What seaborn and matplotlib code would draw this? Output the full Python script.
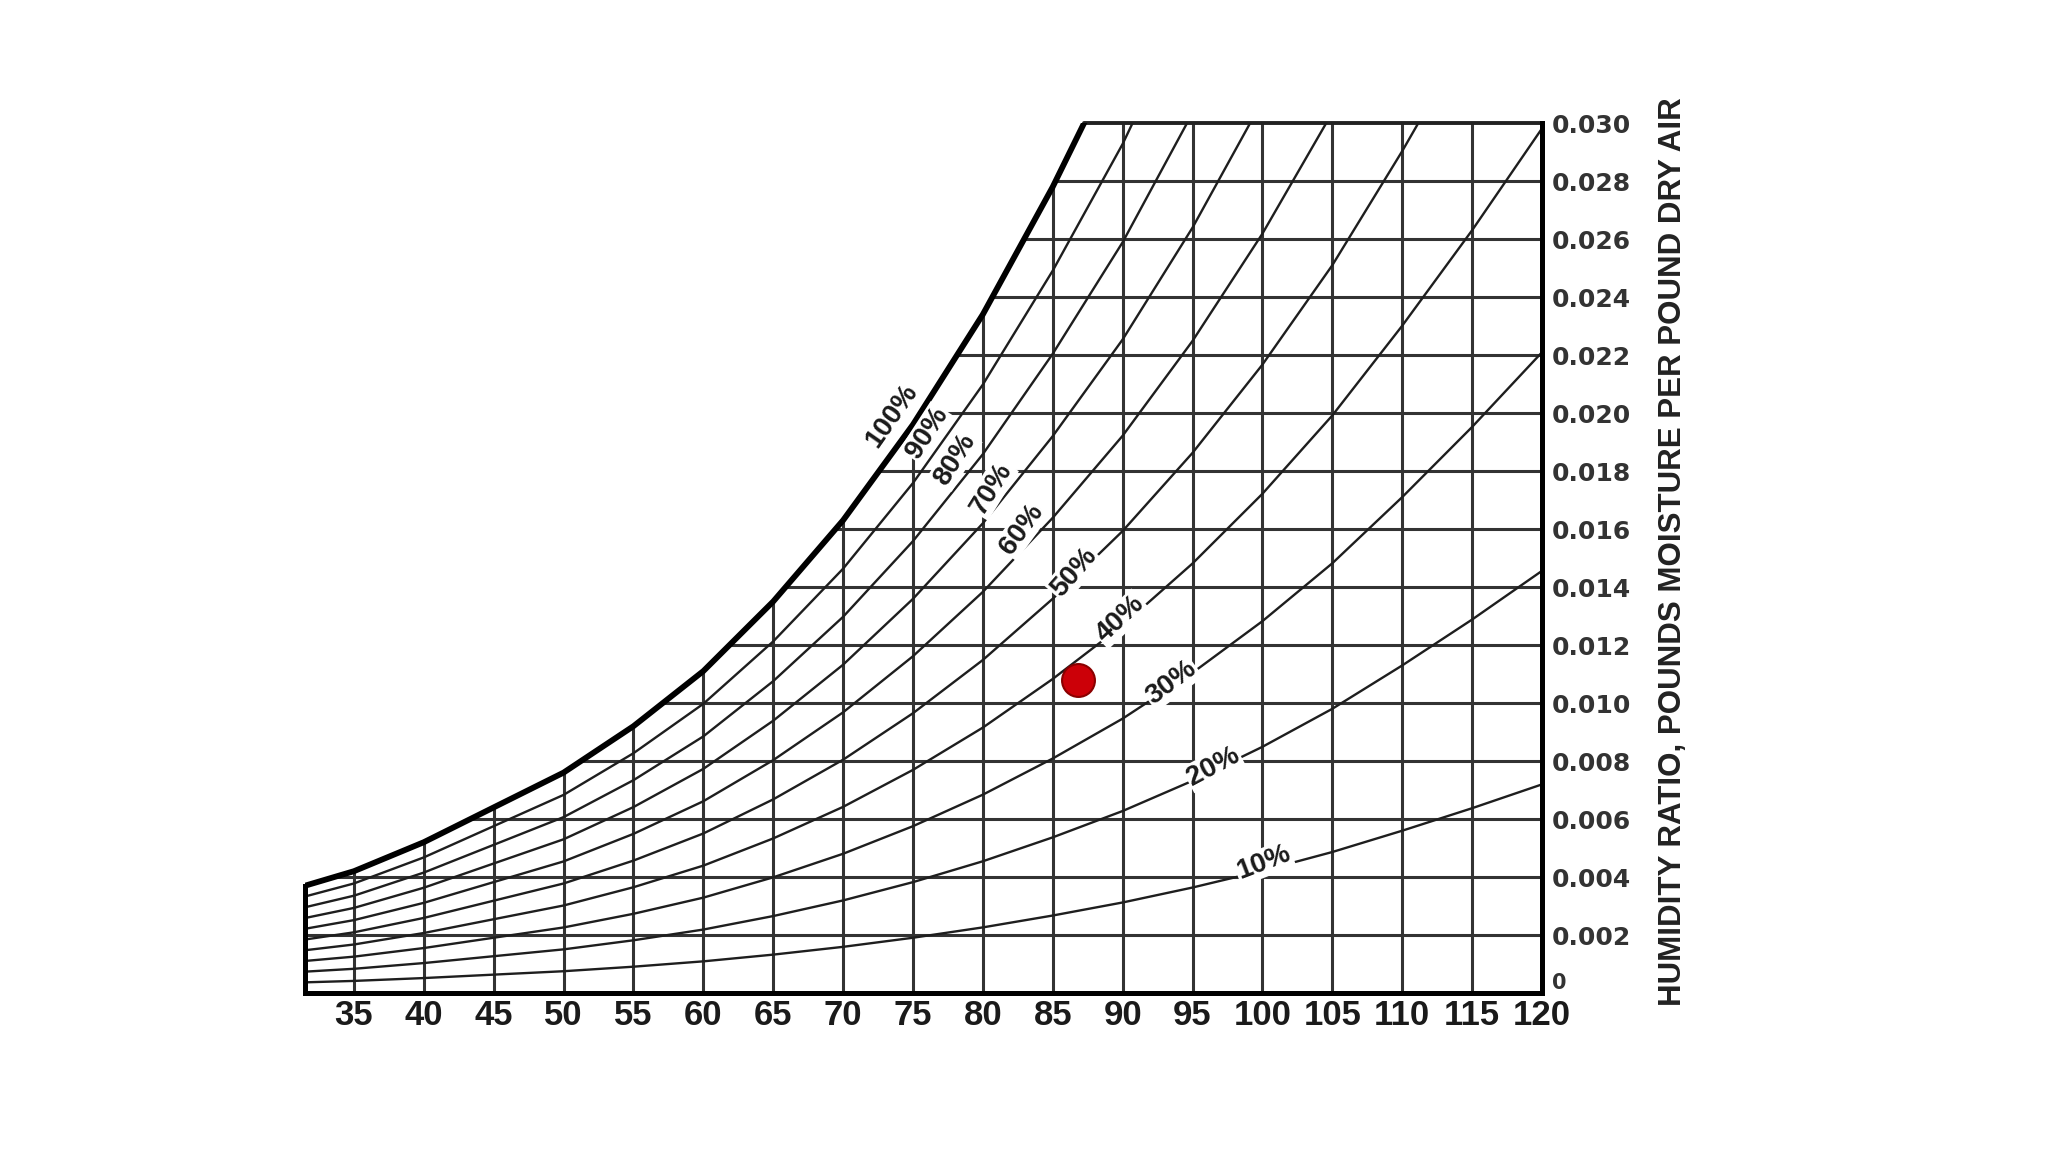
import matplotlib
matplotlib.use("Agg")
import matplotlib.pyplot as plt
import numpy as np
import pandas as pd
import seaborn as sns

# dry bulb temperature (F) at the chart's vertical lines (first value = left edge)
temps = [31.5, 35, 40, 45, 50, 55, 60, 65, 70, 75, 80, 85, 90, 95, 100, 105, 110, 115, 120]
# humidity ratio on the saturation curve
sat_w = [0.0037, 0.0042, 0.0052, 0.0064, 0.0076, 0.0092, 0.0111, 0.0135, 0.0163, 0.0196,
         0.0234, 0.0278, 0.0327, 0.0384, 0.0449, 0.0523, 0.0609, 0.0702, 0.0803]
rh_levels = [0.1, 0.2, 0.3, 0.4, 0.5, 0.6, 0.7, 0.8, 0.9]

x_ticks = [35, 40, 45, 50, 55, 60, 65, 70, 75, 80, 85, 90, 95, 100, 105, 110, 115, 120]
y_ticks = [0, 0.002, 0.004, 0.006, 0.008, 0.010, 0.012, 0.014, 0.016, 0.018, 0.020,
           0.022, 0.024, 0.026, 0.028, 0.030]
y_tick_labels = ["0", "0.002", "0.004", "0.006", "0.008", "0.010", "0.012", "0.014", "0.016",
                 "0.018", "0.020", "0.022", "0.024", "0.026", "0.028", "0.030"]

# relative humidity curve labels
rh_names = ["100%", "90%", "80%", "70%", "60%", "50%", "40%", "30%", "20%", "10%"]
rh_label_t = [73.5, 76.0, 78.0, 80.6, 82.8, 86.5, 89.8, 93.5, 96.5, 100.1]
rh_label_w = [0.0199, 0.0193, 0.0184, 0.0174, 0.0160, 0.0145, 0.0129, 0.0107, 0.0078, 0.0045]
rh_label_angle = [55, 57, 58, 58, 54, 49, 43, 37, 28, 21]

# marked state point
point_t = [86.8]
point_w = [0.0108]

P_ATM = 14.696
W_TOP = 0.030
T_MIN, T_MAX = temps[0], temps[-1]
FONT = ["Liberation Sans", "DejaVu Sans"]

# build the relative humidity curves from the saturation curve
t_arr = np.array(temps)
ws = np.array(sat_w)
pws = ws * P_ATM / (0.622 + ws)
rows = []
for rh in rh_levels:
    pv = rh * pws
    w = 0.622 * pv / (P_ATM - pv)
    for t, v in zip(t_arr, w):
        rows.append({"temp": t, "w": v, "rh": rh})
curves = pd.DataFrame(rows)

sns.set_theme(style="white")
fig = plt.figure(figsize=(20.48, 11.52), dpi=100)
ax = fig.add_axes([0.1489, 0.138, 0.604, 0.7552])

grid_kw = dict(color="#333333", lw=2.2, solid_capstyle="butt", zorder=1)

# vertical lines up to the saturation curve
for t in x_ticks[:-1]:
    top = min(np.interp(t, t_arr, ws), W_TOP)
    ax.plot([t, t], [0, top], **grid_kw)

# horizontal lines from the saturation curve to the right edge
for w in y_ticks[1:-1]:
    t0 = np.interp(w, ws, t_arr)
    ax.plot([t0, T_MAX], [w, w], **grid_kw)
t_top = np.interp(W_TOP, ws, t_arr)
ax.plot([t_top, T_MAX], [W_TOP, W_TOP], color="#222222", lw=2.8, clip_on=False, zorder=2)

# relative humidity curves
sns.lineplot(data=curves, x="temp", y="w", units="rh", estimator=None, sort=False,
             color="#1e1e1e", lw=1.7, ax=ax, zorder=3)

# saturation curve
sns.lineplot(x=temps, y=sat_w, color="black", lw=4.2, ax=ax, zorder=4)

# chart border
border_kw = dict(color="black", lw=3.6, clip_on=False, zorder=5, solid_capstyle="projecting")
ax.plot([T_MIN, T_MAX], [0, 0], **border_kw)
ax.plot([T_MIN, T_MIN], [0, sat_w[0]], **border_kw)
ax.plot([T_MAX, T_MAX], [0, W_TOP], **border_kw)

# curve labels
for name, t, w, ang in zip(rh_names, rh_label_t, rh_label_w, rh_label_angle):
    ax.text(t, w, name, rotation=ang, ha="center", va="center", rotation_mode="anchor",
            fontsize=20, fontweight="bold", family=FONT,
            color="#1a1a1a", zorder=6,
            bbox=dict(boxstyle="square,pad=0.05", fc="white", ec="none"))

# state point
sns.scatterplot(x=point_t, y=point_w, s=560, color="#cc0008", edgecolor="#8a0000",
                linewidth=1.5, ax=ax, zorder=7, legend=False)

ax.set_xlim(T_MIN, T_MAX)
ax.set_ylim(0, W_TOP)
for s in ax.spines.values():
    s.set_visible(False)

ax.set_xticks(x_ticks)
ax.set_xticklabels([str(v) for v in x_ticks], fontsize=25, fontweight="bold",
                   family=FONT, color="#1a1a1a")
ax.tick_params(axis="x", length=0, pad=4)

ax.yaxis.tick_right()
ax.set_yticks(y_ticks)
ax.set_yticklabels(y_tick_labels, fontsize=18, fontweight="bold",
                   family=["DejaVu Sans"], color="#333333")
ax.tick_params(axis="y", length=0, pad=7)
# the "0" label sits just above the bottom edge, as on the original chart
zero_lbl = ax.get_yticklabels()[0]
zero_lbl.set_verticalalignment("bottom")
zero_lbl.set_fontsize(15)

ax.yaxis.set_label_position("right")
ax.set_ylabel("HUMIDITY RATIO, POUNDS MOISTURE PER POUND DRY AIR", fontsize=22.5,
              fontweight="bold", family=FONT, color="#222222")
ax.yaxis.set_label_coords(1.094, 0.507)
ax.set_xlabel("")
ax.grid(False)

fig.savefig("out.png", dpi=100, facecolor="white")
